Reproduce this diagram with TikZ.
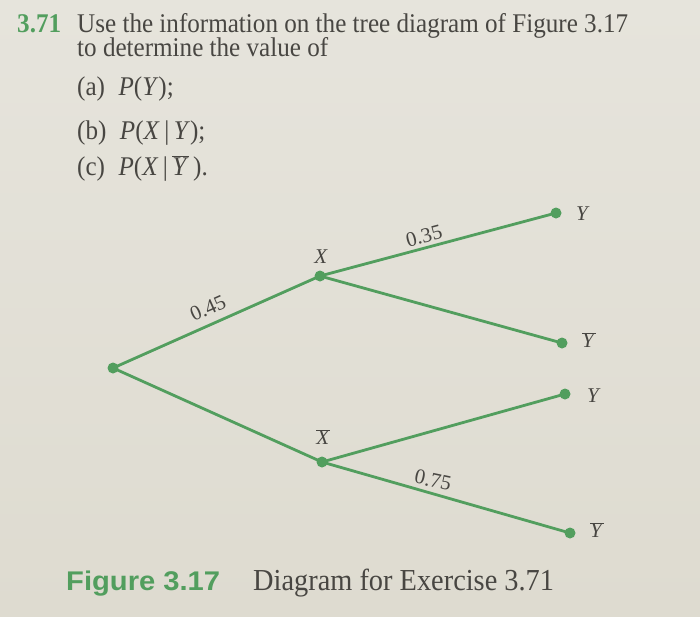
\documentclass[tikz,border=0pt]{standalone}
\usepackage{fontspec}
\setmainfont{Liberation Serif}
\newfontfamily\capsans[FakeStretch=1.08]{Liberation Sans}
\newfontfamily\condserif[FakeStretch=0.93]{Liberation Serif}
\definecolor{paper}{RGB}{222,219,208}
\definecolor{papertop}{RGB}{230,228,220}
\definecolor{ink}{RGB}{72,70,66}
\definecolor{leaf}{RGB}{82,158,94}
\begin{document}
\begin{tikzpicture}[x=1pt,y=-1pt,
  branch/.style={draw=leaf,line width=2.8pt},
  dot/.style={circle,fill=leaf,inner sep=0pt,minimum size=11pt},
  lbl/.style={text=ink,font=\fontsize{21}{21}\selectfont,inner sep=0pt},
  body/.style={text=ink,font=\condserif\fontsize{27}{27}\selectfont,anchor=base west,inner sep=0pt}]
\fill[top color=papertop,bottom color=paper] (0,0) rectangle (700,616);
\useasboundingbox (0,0) rectangle (700,616);
% header text
\node[body,text=leaf,font=\condserif\bfseries\fontsize{27}{27}\selectfont] (num) at (17,32) {3.71};
\node[body] (l1) at (77,32) {Use the information on the tree diagram of Figure 3.17};
\node[body] (l2) at (77,56) {to determine the value of};
\node[body] (qa) at (77,95) {(a)\enspace\textit{P}(\textit{Y});};
\node[body] (qb) at (77,139) {(b)\enspace\textit{P}(\textit{X}\,|\,\textit{Y});};
\node[body] (qc) at (77,175) {(c)\enspace\textit{P}(\textit{X}\,|\,$\overline{\mbox{\textit{Y}}}$\,).};
% tree
\node[dot] (r) at (113,368) {};
\node[dot] (x) at (320,276) {};
\node[dot] (xb) at (322,462) {};
\node[dot] (y1) at (556,213) {};
\node[dot] (yb1) at (562,343) {};
\node[dot] (y2) at (565,394) {};
\node[dot] (yb2) at (570,533) {};
\draw[branch] (r.center) -- (x.center);
\draw[branch] (r.center) -- (xb.center);
\draw[branch] (x.center) -- (y1.center);
\draw[branch] (x.center) -- (yb1.center);
\draw[branch] (xb.center) -- (y2.center);
\draw[branch] (xb.center) -- (yb2.center);
\node[lbl] (lx) at (321,257) {\textit{X}};
\node[lbl] (lxb) at (323,437) {$\overline{\mbox{\textit{X}}}$};
\node[lbl] (ly1) at (583,214) {\textit{Y}};
\node[lbl] (lyb1) at (589,340) {$\overline{\mbox{\textit{Y}}}$};
\node[lbl] (ly2) at (594,396) {\textit{Y}};
\node[lbl] (lyb2) at (597,530) {$\overline{\mbox{\textit{Y}}}$};
\node[lbl,rotate=24] (p45) at (208,308) {0.45};
\node[lbl,rotate=15] (p35) at (424,236) {0.35};
\node[lbl,rotate=-12] (p75) at (433,480) {0.75};
% caption
\node[body,text=leaf,font=\capsans\bfseries\fontsize{27}{27}\selectfont] (cap) at (66,590) {Figure 3.17};
\node[body,font=\condserif\fontsize{30.5}{30.5}\selectfont] (capt) at (253,590) {Diagram for Exercise 3.71};
\end{tikzpicture}
\end{document}
